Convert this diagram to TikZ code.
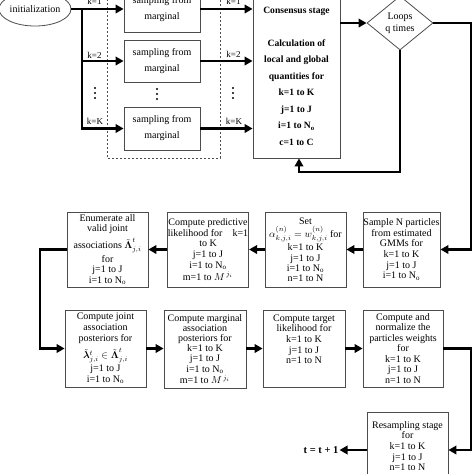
\documentclass[tikz,border=0pt]{standalone}
\usepackage{fontspec}
\setmainfont{Liberation Serif}
\usepackage{bm}
\usetikzlibrary{arrows.meta,shapes.geometric}
\tikzset{
  box/.style={draw=black!70, line width=0.8pt, align=center, inner sep=0.5pt,
    font=\fontsize{10}{10.6}\selectfont},
  sbox/.style={box, minimum width=76pt, font=\fontsize{10}{16}\selectfont},
  arr/.style={line width=2.6pt, -{Triangle[length=8pt,width=8.5pt]}},
  lab/.style={font=\fontsize{9}{10}\selectfont, inner sep=0pt},
  dashbox/.style={draw=black!70, line width=0.6pt, dash pattern=on 2pt off 2pt},
}
\begin{document}
\begin{tikzpicture}[x=1pt,y=-1pt]
\useasboundingbox (0,0) rectangle (474,474);
% top part
\node[box, ellipse, minimum width=72pt, minimum height=34pt, inner sep=0pt] (init) at (35,9) {initialization};
\draw[dashbox] (107,-5) rectangle (220,158);
\node[sbox, minimum height=46pt] (s1) at (162,9) {sampling from\\marginal};
\node[sbox, minimum height=42pt] (s2) at (162,61) {sampling from\\marginal};
\node[sbox, minimum height=43pt] (s3) at (162,128.5) {sampling from\\marginal};
\node[box, font=\bfseries\fontsize{9.6}{16.5}\selectfont, minimum width=87pt, minimum height=164pt] (cons) at (296.5,76)
  {Consensus stage\\[16.5pt]Calculation of\\local and global\\quantities for\\k=1 to K\\j=1 to J\\i=1 to N\textsubscript{o}\\c=1 to C};
\node[box, diamond, minimum width=66pt, minimum height=54pt, inner sep=0pt, font=\fontsize{10}{12}\selectfont] (dia) at (400,23) {Loops\\q times};
% labels
\node[lab] (l1) at (94.5,1) {k=1};
\node[lab] (l2) at (94.5,55) {k=2};
\node[lab] (l3) at (95,121) {k=K};
\node[lab] (r1) at (233.5,1) {k=1};
\node[lab] (r2) at (233.5,54) {k=2};
\node[lab] (r3) at (234,121) {k=K};
\foreach \yy in {88,93,98} {
  \fill (95,\yy) circle (1.2pt);
  \fill (157,\yy+1) circle (1.2pt);
  \fill (233,\yy) circle (1.2pt);
}
% row 2
\node[box, minimum width=77pt, minimum height=75pt] (samp) at (401.5,249.5)
  {Sample N particles\\from estimated\\GMMs for\\k=1 to K\\j=1 to J\\i=1 to N\textsubscript{o}};
\node[box, minimum width=81pt, minimum height=75pt, font=\fontsize{10}{10.2}\selectfont] (set) at (305.5,249.5)
  {Set\\[1.5pt]$\alpha^{(n)}_{k,j,i}=w^{(n)}_{k,j,i}$ for\\[1.5pt]k=1 to K\\j=1 to J\\i=1 to N\textsubscript{o}\\n=1 to N};
\node[box, minimum width=80pt, minimum height=75pt] (pred) at (208,249.5)
  {Compute predictive\\likelihood for\quad k=1\\to K\\j=1 to J\\i=1 to N\textsubscript{o}\\[1.5pt]m=1 to $M^{\,j_i}$};
\node[box, minimum width=81pt, minimum height=75pt] (enum) at (107.5,249.5)
  {Enumerate all\\valid joint\\[3pt]associations $\tilde{\bm\Lambda}^t_{j,i}$\\[1.5pt]for\\j=1 to J\\i=1 to N\textsubscript{o}};
% row 3
\node[box, minimum width=81pt, minimum height=77pt] (joint) at (105.5,348.5)
  {Compute joint\\association\\posteriors for\\[3.5pt]$\tilde{\bm\lambda}^t_{j,i}\in\tilde{\bm\Lambda}^t_{j,i}$\\[2pt]j=1 to J\\i=1 to N\textsubscript{o}};
\node[box, minimum width=82pt, minimum height=78pt, font=\fontsize{10}{10.2}\selectfont] (marg) at (205,349)
  {Compute marginal\\association\\posteriors for\\k=1 to K\\j=1 to J\\i=1 to N\textsubscript{o}\\[1.5pt]m=1 to $M^{\,j_i}$};
\node[box, minimum width=82pt, minimum height=77pt] (targ) at (304,348.5)
  {Compute target\\likelihood for\\k=1 to K\\j=1 to J\\n=1 to N\\[8pt]};
\node[box, minimum width=80pt, minimum height=77pt, font=\fontsize{10}{10.5}\selectfont] (norm) at (403,348.5)
  {Compute and\\normalize the\\particles weights\\for\\k=1 to K\\j=1 to J\\n=1 to N};
% bottom
\node[box, minimum width=81pt, minimum height=68pt] (res) at (407.5,446)
  {Resampling stage\\for\\k=1 to K\\j=1 to J\\n=1 to N};
\node[font=\bfseries\fontsize{10.5}{12}\selectfont, inner sep=1pt] (tt) at (321,450) {t = t + 1};
% helper coordinates
\coordinate (br) at (82,9);
\coordinate (lp) at (0,172);
\coordinate (rx) at (471,0);
\coordinate (lx) at (40,0);
\coordinate (ry) at (0,450);
% connectors
\draw[arr] (init.east) -- (s1.west);
\draw[arr] (br) |- (s2.west);
\draw[arr] (br) |- (s3.west);
\draw[arr] (s1.east) -- (s1.east -| cons.west);
\draw[arr] (s2.east) -- (s2.east -| cons.west);
\draw[arr] (s3.east) -- (s3.east -| cons.west);
\draw[arr] (dia.west -| cons.east) -- (dia.west);
\draw[arr] (dia.south) -- (dia.south |- lp) -| ([xshift=2.5pt]cons.south);
\draw[arr] (dia.east) -| (rx |- samp.east) -- (samp.east);
\draw[arr] (samp.west) -- (set.east);
\draw[arr] (set.west) -- (pred.east);
\draw[arr] (pred.west) -- (enum.east);
\draw[arr] (enum.west) -| (lx |- joint.west) -- (joint.west);
\draw[arr] (joint.east) -- (joint.east -| marg.west);
\draw[arr] (marg.east |- targ.west) -- (targ.west);
\draw[arr] (targ.east) -- (norm.west);
\draw[arr] (norm.east) -| (rx |- ry) -- (res.east |- ry);
\draw[arr] (res.west |- ry) -- (tt.east);
\end{tikzpicture}
\end{document}
